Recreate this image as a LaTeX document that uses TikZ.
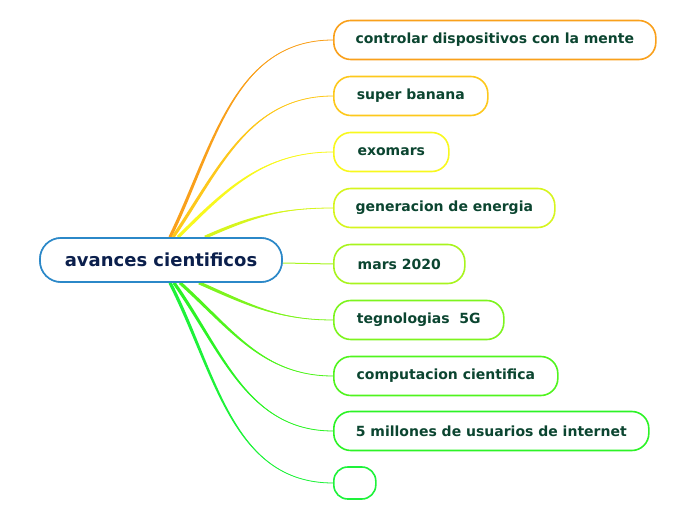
\documentclass[tikz,border=0pt]{standalone}
\usepackage{fontspec}
\setmainfont{DejaVu Sans}
\usetikzlibrary{calc}
\definecolor{cA}{HTML}{F9A01B}
\definecolor{cB}{HTML}{FDC81C}
\definecolor{cC}{HTML}{F8F81E}
\definecolor{cD}{HTML}{D6F51E}
\definecolor{cE}{HTML}{A8F41E}
\definecolor{cF}{HTML}{7DF41E}
\definecolor{cG}{HTML}{50F41E}
\definecolor{cH}{HTML}{2CF326}
\definecolor{cI}{HTML}{1EF23A}
\definecolor{rootblue}{HTML}{2B88C8}
\definecolor{roottext}{HTML}{0B1F4C}
\definecolor{leaftext}{HTML}{0B4530}
\newcommand{\tconn}[4]{%
  \fill[#3] ($(#1)+(#4+90:1.6)$) to[out=#4,in=180] (#2.west)
    to[out=180,in=#4] ($(#1)+(#4-90:1.6)$) -- cycle;
  \draw[#3,line width=0.8pt] (#1) to[out=#4,in=180] (#2.west);}
\begin{document}
\begin{tikzpicture}[x=1pt,y=1pt,
  rootbox/.style={draw=rootblue,line width=1.6pt,fill=white,rounded corners=21pt,
    minimum width=242pt,minimum height=44pt,inner sep=0pt,text=roottext,
    font=\fontsize{18}{21}\selectfont\bfseries},
  leafbox/.style={draw=#1,line width=1.6pt,fill=white,rounded corners=17pt,
    minimum height=39pt,inner sep=0pt,anchor=west,text=leaftext,
    font=\fontsize{14}{17}\selectfont\bfseries}]
\useasboundingbox (0,0) rectangle (696,520);
\node[rootbox] (c) at (161,260) {avances cientificos};
\node[leafbox=cA,minimum width=322pt] (n1) at (333,480) {controlar dispositivos con la mente};
\node[leafbox=cB,minimum width=154pt] (n2) at (333,424) {super banana};
\node[leafbox=cC,minimum width=115pt] (n3) at (333,368) {exomars};
\node[leafbox=cD,minimum width=221pt] (n4) at (333,312) {generacion de energia};
\node[leafbox=cE,minimum width=131pt] (n5) at (333,256) {mars 2020};
\node[leafbox=cF,minimum width=170pt] (n6) at (333,200) {tegnologias\ \ 5G};
\node[leafbox=cG,minimum width=224pt] (n7) at (333,144) {computacion cientifica};
\node[leafbox=cH,minimum width=315pt] (n8) at (333,89) {5 millones de usuarios de internet};
\node[leafbox=cI,minimum width=42pt,minimum height=32pt,rounded corners=14pt] (n9) at (333,37) {};
\coordinate (s1) at ($(c.north)+(9,0)$);
\coordinate (s2) at ($(c.north)+(12,0)$);
\coordinate (s3) at ($(c.north)+(17,0)$);
\coordinate (s4) at ($(c.north)+(44,0)$);
\coordinate (s5) at ($(c.east)+(0,-3)$);
\coordinate (s6) at ($(c.south)+(38,0)$);
\coordinate (s7) at ($(c.south)+(19,0)$);
\coordinate (s8) at ($(c.south)+(13,0)$);
\coordinate (s9) at ($(c.south)+(9,0)$);
\tconn{s1}{n1}{cA}{64}
\tconn{s2}{n2}{cB}{56}
\tconn{s3}{n3}{cC}{45}
\tconn{s4}{n4}{cD}{24}
\draw[cE,line width=1pt] (s5) -- (n5.west);
\tconn{s6}{n6}{cF}{-24}
\tconn{s7}{n7}{cG}{-42}
\tconn{s8}{n8}{cH}{-55}
\tconn{s9}{n9}{cI}{-63}
\node[rootbox] at (c) {avances cientificos};
\end{tikzpicture}
\end{document}
